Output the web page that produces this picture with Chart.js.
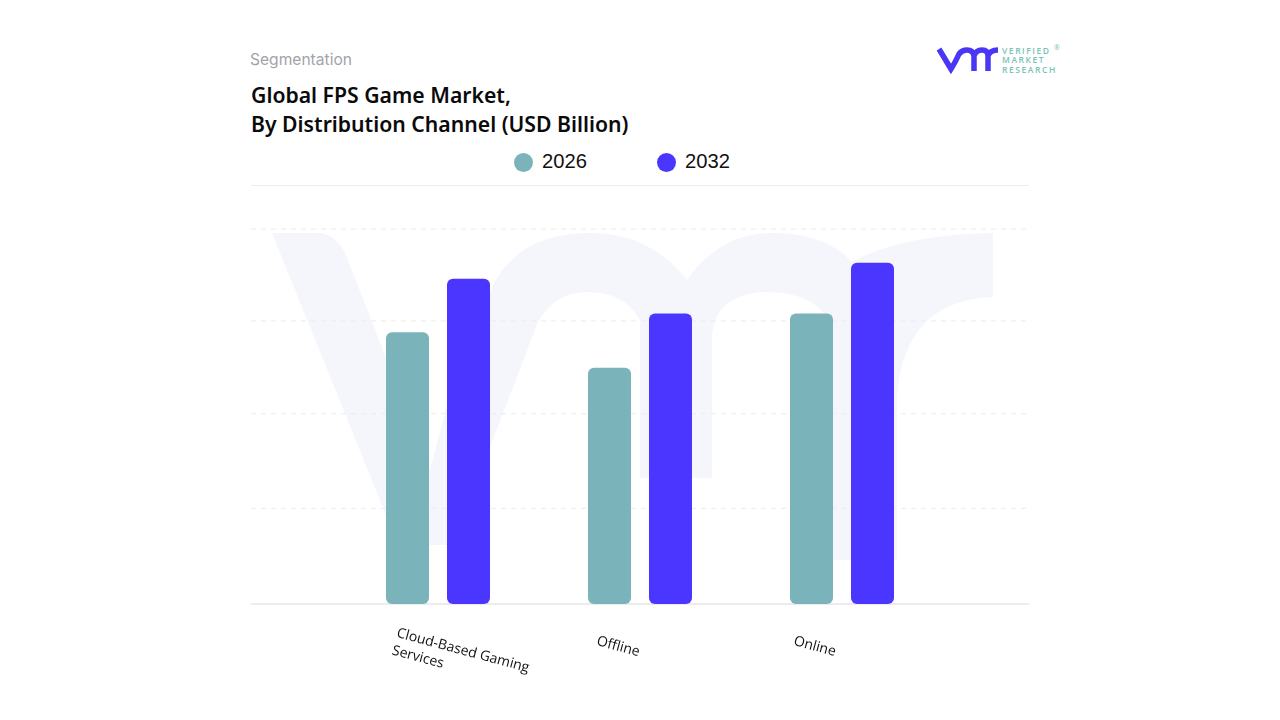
<!DOCTYPE html>
<html>
<head>
<meta charset="utf-8">
<script src="https://cdn.jsdelivr.net/npm/chart.js@4"></script>
<style>
  html, body { margin: 0; padding: 0; background: #fff; }
  body { width: 1280px; height: 720px; position: relative; overflow: hidden; }
  #myChart, #watermark { position: absolute; left: 0; top: 0; }
  .text { position: absolute; white-space: nowrap; }
  #segment { left: 250px; top: 50px; font: 15.6px Inter, sans-serif; color: #a3a3aa; }
  #title { left: 251px; top: 81px; font: 600 21.2px/28.5px "Noto Sans", sans-serif; color: #0a0a0a; }
  .legend-dot { position: absolute; width: 19px; height: 19px; border-radius: 50%; top: 153px; }
  .legend-text { position: absolute; top: 150px; font: 20.2px "Liberation Sans", sans-serif; color: #111; }
  #topline { position: absolute; left: 251px; top: 185px; width: 778px; height: 1px; background: #ececee; }
  #brand { left: 1002px; top: 46px; font: 600 8.5px/9.3px "Open Sans", sans-serif; letter-spacing: 1.55px; color: #79c2b6; }
  #brandmark { left: 1054px; top: 43px; font: 7px "Open Sans", sans-serif; color: #79c2b6; }
</style>
</head>
<body>
<svg id="watermark" width="1280" height="720">
  <path d="M272 233 L322 233 Q340 238 347 258 L430 470 L447 405 L493 285 Q520 233 590 233 Q650 233 687 280 Q720 233 773 233 Q825 233 852 262 Q900 235 993 233 L993 297 Q905 300 897 395 L897 560 L833 560 L833 335 Q825 292 765 292 Q712 295 712 340 L712 478 L640 478 L640 320 Q625 292 587 292 Q555 292 538 322 L492 442 L455 545 L398 545 Z"
    fill="#f5f6fc"/>
</svg>
<svg id="logo" style="position:absolute;left:0;top:0" width="1280" height="720">
  <path d="M939 49 L951 69 Q955 63 959 54 Q962 50 967 50 Q973 50 974 56 L974 71 M974 56 Q976 50 982 50 Q988 50 988 56 L988 71 M988 56 Q990 50 998 50"
    fill="none" stroke="#4a36f5" stroke-width="5.5"/>
</svg>
<div class="text" id="segment">Segmentation</div>
<div class="text" id="title">Global FPS Game Market,<br>By Distribution Channel (USD Billion)</div>
<div class="text" id="brand">VERIFIED<br>MARKET<br>RESEARCH</div>
<div class="text" id="brandmark">®</div>
<div id="legend"></div>
<div id="topline"></div>
<canvas id="myChart" width="1280" height="720"></canvas>
<script>
const categories = [["Cloud-Based Gaming", "Services"], ["Offline"], ["Online"]];
const values2026 = [2.9, 2.52, 3.1];
const values2032 = [3.47, 3.1, 3.64];
const gridValues = [1.02, 2.03, 3.02, 4];

// gridlines run wider than the bars, so they are drawn from the y scale here
const wideGrid = {
  id: 'wideGrid',
  beforeDatasetsDraw(chart) {
    const ctx = chart.ctx;
    const y = chart.scales.y;
    ctx.save();
    ctx.strokeStyle = '#ececee';
    ctx.lineWidth = 1;
    ctx.setLineDash([5, 5]);
    gridValues.forEach(v => {
      ctx.beginPath();
      ctx.moveTo(251, y.getPixelForValue(v));
      ctx.lineTo(1029, y.getPixelForValue(v));
      ctx.stroke();
    });
    ctx.setLineDash([]);
    ctx.lineWidth = 2;
    ctx.beginPath();
    ctx.moveTo(251, y.getPixelForValue(0));
    ctx.lineTo(1029, y.getPixelForValue(0));
    ctx.stroke();
    ctx.restore();
  }
};

// tilted the other way than Chart.js ticks go
const labelShift = [-41, -43, -48];
const tiltedLabels = {
  id: 'tiltedLabels',
  afterDraw(chart) {
    const ctx = chart.ctx;
    const x = chart.scales.x;
    ctx.save();
    ctx.font = '14px "Open Sans", sans-serif';
    ctx.fillStyle = '#111';
    ctx.textAlign = 'left';
    ctx.textBaseline = 'middle';
    categories.forEach((lines, i) => {
      ctx.save();
      ctx.translate(x.getPixelForValue(i) + labelShift[i], lines.length > 1 ? 633 : 641);
      ctx.rotate(15 * Math.PI / 180);
      lines.forEach((line, n) => ctx.fillText(line, 0, n * 18));
      ctx.restore();
    });
    ctx.restore();
  }
};

const chart = new Chart(document.getElementById('myChart'), {
  type: 'bar',
  data: {
    labels: categories,
    datasets: [
      { label: '2026', data: values2026, backgroundColor: '#7ab3b9' },
      { label: '2032', data: values2032, backgroundColor: '#4a36ff' }
    ]
  },
  options: {
    responsive: false,
    animation: false,
    layout: { padding: { left: 337, right: 337, top: 229, bottom: 116 } },
    datasets: {
      bar: { categoryPercentage: 0.604, barPercentage: 0.705, borderRadius: 6, borderSkipped: false }
    },
    plugins: { legend: { display: false }, tooltip: { enabled: false } },
    scales: {
      x: { display: false, grid: { display: false } },
      y: { display: false, min: 0, max: 4, grid: { display: false } }
    }
  },
  plugins: [wideGrid, tiltedLabels]
});

// legend sits off centre in the original, so it is plain html
const legendSpots = [514, 657];
chart.data.datasets.forEach((ds, i) => {
  const dot = document.createElement('div');
  dot.className = 'legend-dot';
  dot.style.left = legendSpots[i] + 'px';
  dot.style.background = ds.backgroundColor;
  const label = document.createElement('div');
  label.className = 'legend-text';
  label.style.left = (legendSpots[i] + 28) + 'px';
  label.textContent = ds.label;
  document.getElementById('legend').append(dot, label);
});
</script>
</body>
</html>
